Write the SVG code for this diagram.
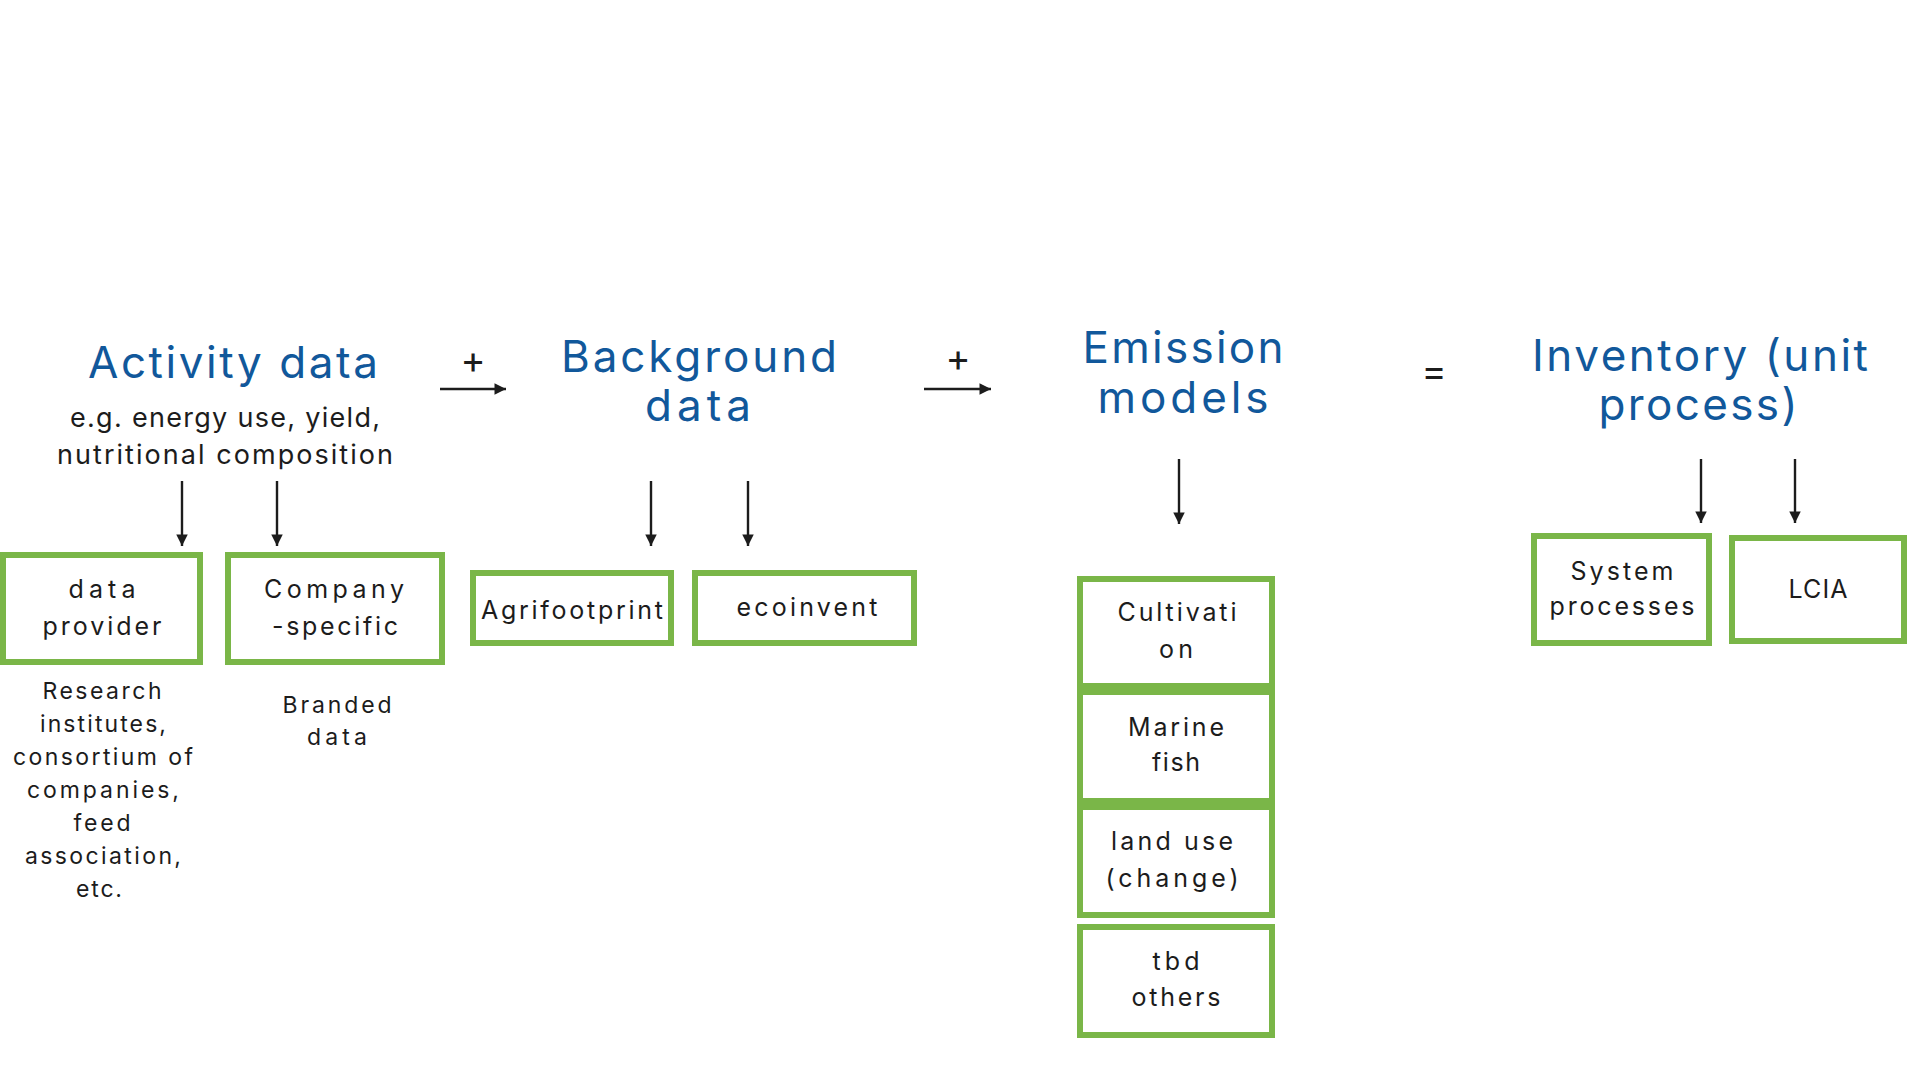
<svg xmlns="http://www.w3.org/2000/svg" width="1920" height="1080" viewBox="0 0 1920 1080">
<style>
.title{font-family:Inter,"Liberation Sans",sans-serif;font-size:44px;fill:#11589b;text-anchor:middle}
.sub{font-family:Inter,"Liberation Sans",sans-serif;font-size:27px;fill:#1c1c1c;text-anchor:middle}
.lbl{font-family:Inter,"Liberation Sans",sans-serif;font-size:25px;fill:#1c1c1c;text-anchor:middle}
.note{font-family:Inter,"Liberation Sans",sans-serif;font-size:23px;fill:#1c1c1c;text-anchor:middle}
.op{font-family:Inter,"Liberation Sans",sans-serif;font-size:38px;fill:#1c1c1c;text-anchor:middle}
.box{fill:#fff;stroke:#7ab648;stroke-width:6}
.conn{stroke:#1c1c1c;stroke-width:2.4;fill:none;marker-end:url(#ah)}
</style>
<defs>
<marker id="ah" viewBox="0 0 10 10" refX="10" refY="5" markerWidth="4.8" markerHeight="5" markerUnits="strokeWidth" orient="auto">
<path d="M0,0 L10,5 L0,10 z" fill="#1c1c1c"/>
</marker>
</defs>
<rect width="1920" height="1080" fill="#fff"/>

<g id="activity-data">
<text class="title" x="233" y="378" textLength="290" lengthAdjust="spacing">Activity data</text>
<text class="sub" x="225" y="427" textLength="310" lengthAdjust="spacing">e.g. energy use, yield,</text>
<text class="sub" x="225" y="464" textLength="336" lengthAdjust="spacing">nutritional composition</text>
</g>
<g id="data-provider">
<rect class="box" x="3" y="555" width="197" height="107"/>
<text class="lbl" x="102" y="598" textLength="67" lengthAdjust="spacing">data</text>
<text class="lbl" x="102" y="635" textLength="119" lengthAdjust="spacing">provider</text>
<text class="note" x="102" y="699" textLength="119" lengthAdjust="spacing">Research</text>
<text class="note" x="103" y="732" textLength="126" lengthAdjust="spacing">institutes,</text>
<text class="note" x="103" y="765" textLength="180" lengthAdjust="spacing">consortium of</text>
<text class="note" x="103" y="798" textLength="152" lengthAdjust="spacing">companies,</text>
<text class="note" x="102" y="831" textLength="57" lengthAdjust="spacing">feed</text>
<text class="note" x="103" y="864" textLength="156" lengthAdjust="spacing">association,</text>
<text class="note" x="99" y="897" textLength="46" lengthAdjust="spacing">etc.</text>
</g>
<g id="company-specific">
<rect class="box" x="228" y="555" width="214" height="107"/>
<text class="lbl" x="334" y="598" textLength="140" lengthAdjust="spacing">Company</text>
<text class="lbl" x="335" y="635" textLength="126" lengthAdjust="spacing">-specific</text>
<text class="note" x="337" y="713" textLength="109" lengthAdjust="spacing">Branded</text>
<text class="note" x="337" y="745" textLength="60" lengthAdjust="spacing">data</text>
</g>

<g id="background-data">
<text class="title" x="699" y="372" textLength="276" lengthAdjust="spacing">Background</text>
<text class="title" x="698" y="421" textLength="106" lengthAdjust="spacing">data</text>
</g>
<g id="agrifootprint">
<rect class="box" x="473" y="573" width="198" height="70"/>
<text class="lbl" x="572" y="619" textLength="182" lengthAdjust="spacing">Agrifootprint</text>
</g>
<g id="ecoinvent">
<rect class="box" x="695" y="573" width="219" height="70"/>
<text class="lbl" x="807" y="616" textLength="141" lengthAdjust="spacing">ecoinvent</text>
</g>

<g id="emission-models">
<text class="title" x="1183" y="363" textLength="201" lengthAdjust="spacing">Emission</text>
<text class="title" x="1183" y="413" textLength="171" lengthAdjust="spacing">models</text>
</g>
<g id="cultivation">
<rect class="box" x="1080" y="579" width="192" height="107"/>
<text class="lbl" x="1177" y="621" textLength="119" lengthAdjust="spacing">Cultivati</text>
<text class="lbl" x="1176" y="658" textLength="34" lengthAdjust="spacing">on</text>
</g>
<g id="marine-fish">
<rect class="box" x="1080" y="692" width="192" height="109"/>
<text class="lbl" x="1176" y="736" textLength="96" lengthAdjust="spacing">Marine</text>
<text class="lbl" x="1176" y="771" textLength="48" lengthAdjust="spacing">fish</text>
</g>
<g id="land-use">
<rect class="box" x="1080" y="807" width="192" height="108"/>
<text class="lbl" x="1172" y="850" textLength="122" lengthAdjust="spacing">land use</text>
<text class="lbl" x="1172" y="887" textLength="133" lengthAdjust="spacing">(change)</text>
</g>
<g id="tbd-others">
<rect class="box" x="1080" y="927" width="192" height="108"/>
<text class="lbl" x="1176" y="970" textLength="47" lengthAdjust="spacing">tbd</text>
<text class="lbl" x="1176" y="1006" textLength="89" lengthAdjust="spacing">others</text>
</g>

<g id="inventory">
<text class="title" x="1700" y="371" textLength="336" lengthAdjust="spacing">Inventory (unit</text>
<text class="title" x="1698" y="420" textLength="199" lengthAdjust="spacing">process)</text>
</g>
<g id="system-processes">
<rect class="box" x="1534" y="536" width="175" height="107"/>
<text class="lbl" x="1622" y="580" textLength="103" lengthAdjust="spacing">System</text>
<text class="lbl" x="1622" y="615" textLength="145" lengthAdjust="spacing">processes</text>
</g>
<g id="lcia">
<rect class="box" x="1732" y="538" width="172" height="103"/>
<text class="lbl" x="1818" y="598" textLength="59" lengthAdjust="spacing">LCIA</text>
</g>

<g id="operators">
<text class="op" x="473" y="373">+</text>
<text class="op" x="958" y="371">+</text>
<text class="op" x="1434" y="384">=</text>
</g>

<g id="connectors">
<line class="conn" x1="440" y1="389" x2="506" y2="389"/>
<line class="conn" x1="924" y1="389" x2="991" y2="389"/>
<line class="conn" x1="182" y1="481" x2="182" y2="546"/>
<line class="conn" x1="277" y1="481" x2="277" y2="546"/>
<line class="conn" x1="651" y1="481" x2="651" y2="546"/>
<line class="conn" x1="748" y1="481" x2="748" y2="546"/>
<line class="conn" x1="1179" y1="459" x2="1179" y2="524"/>
<line class="conn" x1="1701" y1="459" x2="1701" y2="523"/>
<line class="conn" x1="1795" y1="459" x2="1795" y2="523"/>
</g>
</svg>
